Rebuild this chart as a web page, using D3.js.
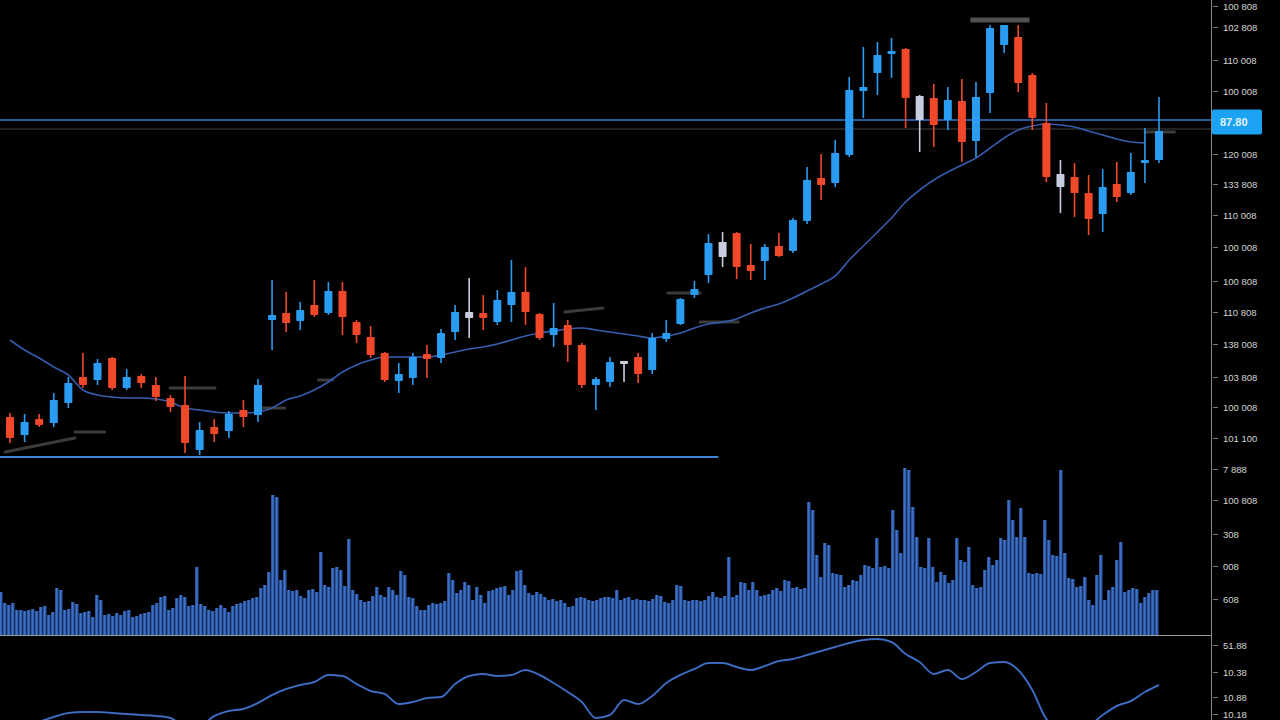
<!DOCTYPE html>
<html><head><meta charset="utf-8">
<script src="https://cdn.jsdelivr.net/npm/d3@7"></script>
<style>html,body{margin:0;padding:0;background:#000;overflow:hidden}</style>
</head><body><svg id="c" width="1280" height="720"></svg>
<script>
// ---- price candles (index order) ----
const candleOpen = [58.3,56.5,58.1,57.7,59.7,62.3,62.0,64.2,61.2,62.4,
61.5,60.2,59.5,55.0,57.3,56.9,59.0,58.5,68.0,68.7,
67.9,69.5,68.7,70.9,67.8,66.3,64.7,61.9,62.2,64.6,
64.2,66.8,68.2,68.7,67.8,69.5,70.8,68.6,66.5,67.5,
65.5,61.5,61.8,63.6,64.3,63.0,66.1,67.6,70.5,72.5,
74.3,76.7,73.5,73.9,75.4,74.9,77.9,82.2,81.7,84.5,
90.9,92.7,94.6,95.1,88.0,90.2,88.0,89.9,85.9,90.7,
95.5,96.3,92.5,87.7,81.3,82.3,80.7,78.6,81.6,80.7,
83.7,84.0];
const candleClose = [56.2,57.8,57.5,60.0,61.7,61.5,63.7,61.2,62.3,61.7,
60.3,59.3,55.7,57.0,56.6,58.6,58.3,61.5,68.5,67.7,
69.0,68.5,70.9,68.3,66.5,64.5,62.0,62.6,64.3,64.1,
66.7,68.8,68.8,68.2,70.0,70.8,68.8,66.2,67.2,65.5,
61.5,62.1,63.8,63.9,62.6,66.2,66.7,70.1,71.1,75.7,
75.8,73.3,72.9,75.3,74.4,78.0,82.0,81.5,84.7,91.0,
91.3,94.5,94.9,90.2,90.4,87.5,90.0,85.8,90.3,97.2,
97.5,91.7,88.2,82.3,82.6,80.7,78.1,81.3,80.3,82.8,
84.0,86.9];
const candleHigh = [58.7,58.6,58.6,60.7,62.3,64.7,64.1,64.3,63.1,62.6,
62.3,60.5,62.4,57.8,58.1,58.9,60.0,62.1,72.0,70.8,
69.8,72.0,71.8,71.8,68.0,67.4,64.8,63.7,64.7,65.5,
67.1,69.5,72.2,70.5,71.0,74.0,73.3,68.7,69.7,68.0,
65.7,62.3,64.3,63.9,64.7,66.7,68.0,70.2,71.9,76.6,
76.8,76.8,75.6,75.6,76.7,78.2,83.3,84.6,86.0,92.3,
95.3,95.8,96.2,95.2,90.5,91.6,91.3,92.1,91.8,97.5,
97.5,97.5,92.7,89.7,84.0,83.7,82.5,83.1,83.8,84.7,
87.2,90.3];
const candleLow = [55.7,55.8,57.3,57.3,59.2,61.2,61.5,61.0,61.0,61.2,
59.9,58.8,54.7,54.5,55.8,56.2,57.3,57.8,65.0,66.8,
67.0,68.3,68.5,66.5,65.7,64.2,61.8,60.7,61.5,62.2,
63.7,66.0,66.2,67.0,67.5,67.8,67.5,66.0,65.3,63.8,
61.2,59.0,61.3,61.8,61.7,62.6,65.8,67.5,70.2,71.7,
73.3,72.1,72.0,72.0,74.3,74.7,77.6,80.0,81.3,84.3,
88.2,90.5,92.2,87.2,84.8,85.3,87.0,83.8,84.3,88.7,
94.7,90.8,87.0,81.8,78.7,78.3,76.5,76.8,79.8,80.5,
81.7,83.7];
const neutralCandles = [32,43,50,64,74];

// ---- moving average (one per candle) ----
const maValues = [66.0,65.0,64.2,63.3,62.5,61.0,60.5,60.3,60.2,60.2,
60.1,59.8,59.2,59.0,58.8,58.7,58.7,58.8,59.2,60.0,
60.4,61.0,61.8,62.8,63.5,64.0,64.3,64.3,64.3,64.3,
64.5,64.8,65.1,65.3,65.6,66.0,66.4,66.7,66.9,67.1,
67.2,67.0,66.8,66.6,66.4,66.2,66.4,66.7,67.2,67.6,
67.8,68.1,68.7,69.2,69.6,70.2,70.9,71.6,72.4,74.0,
75.4,76.8,78.2,79.8,81.0,82.0,82.8,83.5,84.2,85.2,
86.2,87.0,87.4,87.6,87.5,87.3,86.9,86.5,86.1,85.8,
85.7,null];

// ---- volume bars ----
const volumes = [43,32,30,32,25,25,24,25,26,24,
28,29,20,23,47,45,25,26,33,31,
22,23,24,18,40,35,20,21,19,22,
20,24,25,18,19,21,22,23,30,32,
38,39,25,27,37,40,38,29,30,68,
31,29,25,24,27,30,27,23,29,31,
32,34,35,37,38,47,50,63,140,138,
55,65,45,44,45,39,37,45,46,43,
83,50,48,67,68,65,49,96,45,41,
35,33,34,39,48,40,38,48,45,40,
64,60,38,37,29,25,25,30,32,31,
32,34,62,55,42,45,53,50,35,48,
40,32,44,45,47,48,49,40,45,64,
65,50,42,40,43,41,38,35,36,34,
35,32,28,29,37,38,37,35,34,35,
37,38,38,37,45,35,37,38,35,36,
35,35,34,36,40,39,33,32,35,50,
49,35,34,35,35,34,35,39,43,38,
37,39,78,38,40,53,52,45,53,45,
39,40,41,45,47,44,55,54,47,48,
46,47,133,125,80,58,92,90,62,61,
60,48,50,55,54,60,70,69,67,97,
68,69,67,125,105,82,167,165,128,98,
68,67,97,68,53,63,60,52,55,97,
75,73,88,50,47,48,65,78,70,75,
97,95,135,115,98,127,98,62,61,62,
61,115,95,80,79,165,82,57,56,48,
49,58,35,30,60,80,35,45,48,75,
93,43,45,47,46,32,38,42,45,45];

// ---- oscillator (one per candle) ----
const oscValues = [5,10,18,23,27,28,28,27,26,25,
24,22,14,14,24,29,31,37,45,51,
55,58,65,64,56,49,46,36,38,42,
43,56,64,66,64,65,70,65,57,48,
38,22,25,40,36,44,57,65,71,77,
77,73,70,74,79,81,85,89,93,97,
100,101,98,86,78,66,70,61,68,77,
78,70,50,21,12,10,14,25,34,39,
48,55];

// ---- axis ticks and labels ----
const priceTicks = [99.4,97.3,94.0,90.9,84.6,81.6,78.5,75.3,71.9,68.8,65.6,62.3,59.3,56.2,53.1];
const priceTickLabels = ["100 808","102 808","110 008","100 008","120 008","133 808","110 008","100 008","100 808","110 808","138 008","103 808","100 008","101 100","7 888"];
const volumeTicks = [135,101,69,36];
const volumeTickLabels = ["100 808","308","008","608"];
const oscTicks = [95,68,43,26];
const oscTickLabels = ["51.88","10.38","10.88","10.18"];

// ---- levels ----
const lastPrice = 87.8;
const lastPriceLabel = "87.80";
const priceLevel = 88.0;
const refLevel = 87.1;
const supportLevel = 54.3;
const supportEndIndex = 49.7;
// annotation strokes: start/end candle index, start/end price
const annoStart = [10.97,-0.34,4.45,21.3,17.0,38.8,46.1,48.4,80.0];
const annoEnd   = [14.05,4.45,6.5,22.3,18.9,41.5,48.4,51.1,82.1];
const annoP0    = [61.2,54.8,56.8,62.0,59.2,68.8,70.7,67.8,86.8];
const annoP1    = [61.2,56.2,56.8,62.0,59.2,69.2,70.7,67.8,86.8];
const peakMarkStart = 67.6, peakMarkEnd = 71.8, peakMarkPrice = 98.0;

// ---- layout ----
const W = 1280, H = 720, axisX = 1211;
const svg = d3.select("#c");
svg.append("rect").attr("width", W).attr("height", H).attr("fill", "#000");

const x = d3.scaleLinear().domain([0, 17, 81]).range([10, 258, 1159]);
const y = d3.scaleLinear().domain([53, 100]).range([470, 0]);
const vx = d3.scaleLinear().domain([0, volumes.length - 1]).range([1, 1157]);
const vy = d3.scaleLinear().domain([0, 170]).range([635, 465]);
const oy = d3.scaleLinear().domain([0, 100]).range([740, 640]);

const RED = "#f2482a", BLUE = "#2a9df2", NEUTRAL = "#c8cde0";

// level lines
svg.append("line").attr("x1", 0).attr("x2", axisX).attr("y1", y(refLevel)).attr("y2", y(refLevel))
  .attr("stroke", "#444").attr("stroke-width", 1);
svg.append("line").attr("x1", 0).attr("x2", axisX).attr("y1", y(priceLevel)).attr("y2", y(priceLevel))
  .attr("stroke", "#2f78d0").attr("stroke-width", 1.5);
svg.append("line").attr("x1", 0).attr("x2", x(supportEndIndex)).attr("y1", y(supportLevel)).attr("y2", y(supportLevel))
  .attr("stroke", "#3a86d8").attr("stroke-width", 2);

// annotations
const annoG = svg.append("g");
annoStart.forEach((s, k) => {
  annoG.append("line").attr("x1", x(s)).attr("x2", x(annoEnd[k]))
    .attr("y1", y(annoP0[k])).attr("y2", y(annoP1[k]))
    .attr("stroke", "#555").attr("stroke-width", 3).attr("stroke-linecap", "round").attr("opacity", 0.7);
});
annoG.append("line").attr("x1", x(peakMarkStart)).attr("x2", x(peakMarkEnd))
  .attr("y1", y(peakMarkPrice)).attr("y2", y(peakMarkPrice))
  .attr("stroke", "#666").attr("stroke-width", 5).attr("opacity", 0.8);

// moving average
const maLine = d3.line().defined(d => d != null).x((d, i) => x(i)).y(d => y(d)).curve(d3.curveMonotoneX);
svg.append("path").datum(maValues).attr("d", maLine).attr("fill", "none")
  .attr("stroke", "#2a50a0").attr("stroke-width", 1.7);
svg.append("path").datum(maValues).attr("d", maLine).attr("fill", "none")
  .attr("stroke", "#5a80c8").attr("stroke-width", 0.6).attr("opacity", 0.6);

// candles
const idx = d3.range(candleOpen.length);
const col = i => neutralCandles.includes(i) ? NEUTRAL : (candleClose[i] >= candleOpen[i] ? BLUE : RED);
const cg = svg.append("g");
cg.selectAll("line.w").data(idx).join("line").attr("class", "w")
  .attr("x1", i => x(i)).attr("x2", i => x(i))
  .attr("y1", i => y(candleHigh[i])).attr("y2", i => y(candleLow[i]))
  .attr("stroke", col).attr("stroke-width", 1.6);
const bw = 8;
cg.selectAll("rect.b").data(idx).join("rect").attr("class", "b")
  .attr("x", i => x(i) - bw / 2).attr("width", bw)
  .attr("y", i => y(Math.max(candleOpen[i], candleClose[i])))
  .attr("height", i => Math.max(2.5, Math.abs(y(candleOpen[i]) - y(candleClose[i]))))
  .attr("fill", col).attr("rx", 0.8);

// volume
svg.append("g").selectAll("rect").data(volumes).join("rect")
  .attr("x", (d, i) => vx(i) - 1.5).attr("width", 3)
  .attr("y", d => vy(d)).attr("height", d => vy(0) - vy(d))
  .attr("fill", "#2f5eb6");
svg.append("g").selectAll("line").data(volumes).join("line")
  .attr("x1", (d, i) => vx(i) - 1).attr("x2", (d, i) => vx(i) - 1)
  .attr("y1", d => vy(d)).attr("y2", vy(0))
  .attr("stroke", "#5a90e4").attr("stroke-width", 0.8);
svg.append("line").attr("x1", 0).attr("x2", axisX).attr("y1", vy(0) + 0.5).attr("y2", vy(0) + 0.5)
  .attr("stroke", "#9a9a9a").attr("stroke-width", 1);

// oscillator
const oscLine = d3.line().x((d, i) => x(i)).y(d => oy(d)).curve(d3.curveMonotoneX);
svg.append("path").datum(oscValues).attr("d", oscLine).attr("fill", "none")
  .attr("stroke", "#2f5cb4").attr("stroke-width", 2);
svg.append("path").datum(oscValues).attr("d", oscLine).attr("fill", "none")
  .attr("stroke", "#7aa2e4").attr("stroke-width", 0.6).attr("opacity", 0.6);

// right axis
svg.append("line").attr("x1", axisX + 0.5).attr("x2", axisX + 0.5).attr("y1", 0).attr("y2", H)
  .attr("stroke", "#8a8a8a").attr("stroke-width", 1);

function rightAxis(scale, ticks, labels) {
  const ax = d3.axisRight(scale).tickValues(ticks).tickSize(5).tickPadding(5)
    .tickFormat((d, i) => labels[i]);
  const g = svg.append("g").attr("transform", `translate(${axisX + 2},0)`).call(ax);
  g.select(".domain").remove();
  g.selectAll(".tick line").attr("stroke", "#7a7a7a");
  g.selectAll(".tick text").attr("fill", "#d4d4d4")
    .style("font-family", "'Liberation Sans', Arial, sans-serif").style("font-size", "9.5px");
}
rightAxis(y, priceTicks, priceTickLabels);
rightAxis(vy, volumeTicks, volumeTickLabels);
rightAxis(oy, oscTicks, oscTickLabels);

// last price tag
const tagG = svg.append("g");
tagG.append("rect").attr("x", axisX + 1).attr("y", y(lastPrice) - 12.5).attr("width", 50).attr("height", 25)
  .attr("rx", 2).attr("fill", "#1ba2f2");
tagG.append("text").attr("x", axisX + 9).attr("y", y(lastPrice) + 4)
  .attr("fill", "#e6f3ff").style("font-family", "'Liberation Sans', Arial, sans-serif")
  .style("font-size", "11px").style("font-weight", "bold").text(lastPriceLabel);
</script>
</body></html>
